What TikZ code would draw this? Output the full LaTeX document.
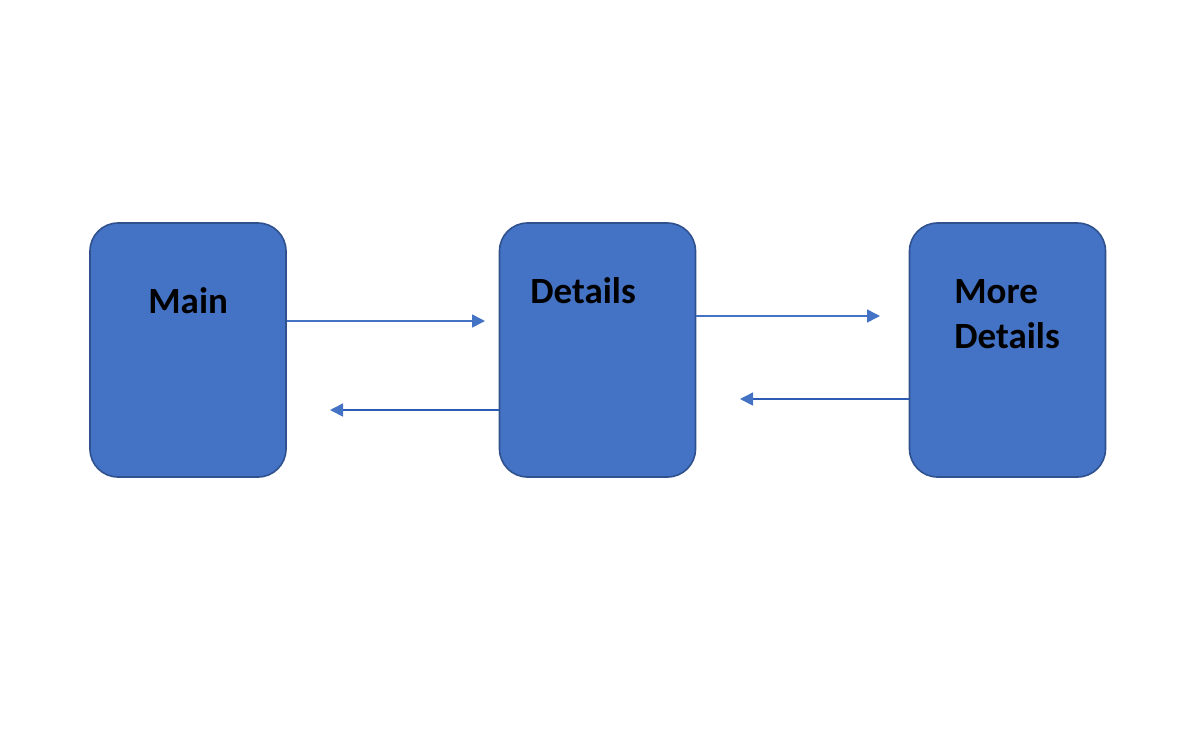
\documentclass[tikz,border=0pt]{standalone}
\usepackage{fontspec}
\setmainfont{Carlito}
\usepackage{xcolor}
\usetikzlibrary{arrows.meta}

\definecolor{boxfill}{HTML}{4472C4}
\definecolor{boxline}{HTML}{2F528F}
\definecolor{backline}{HTML}{2E5CB4}

\begin{document}
\begin{tikzpicture}[x=0.5pt, y=-0.5pt,
  screen/.style={draw=boxline, line width=0.8pt, fill=boxfill, rounded corners=14pt,
    minimum width=98pt, minimum height=127pt, inner sep=0pt},
  label/.style={font=\bfseries\fontsize{18.5}{22.5}\selectfont, anchor=base west,
    inner sep=0pt, align=left},
  link/.style={draw=boxfill, line width=0.8pt, -{Triangle[length=6.5pt,width=6.5pt]}},
  back/.style={draw=backline, line width=0.8pt, -{Triangle[length=6.5pt,width=6.5pt,color=boxfill]}}]
  % fix the page size
  \useasboundingbox (0,0) rectangle (1200,729);

  % the three screens
  \node[screen] (main) at (188,350) {};
  \node[screen] (details) at (597.5,350) {};
  \node[screen] (more) at (1007.5,350) {};

  % titles
  \node[label] (mainlbl) at (148,313) {Main};
  \node[label] (detailslbl) at (530,303) {Details};
  \node[label, anchor=north west] (morelbl) at (954,279) {More\\Details};

  % forward links
  \coordinate (fwdA) at (485,321);
  \coordinate (fwdB) at (880,316);
  \draw[link] (main.east |- fwdA) -- (fwdA);
  \draw[link] (details.east |- fwdB) -- (fwdB);

  % back links
  \coordinate (backA) at (330,410);
  \coordinate (backB) at (740,399);
  \draw[back] (details.west |- backA) -- (backA);
  \draw[back] (more.west |- backB) -- (backB);
\end{tikzpicture}
\end{document}
